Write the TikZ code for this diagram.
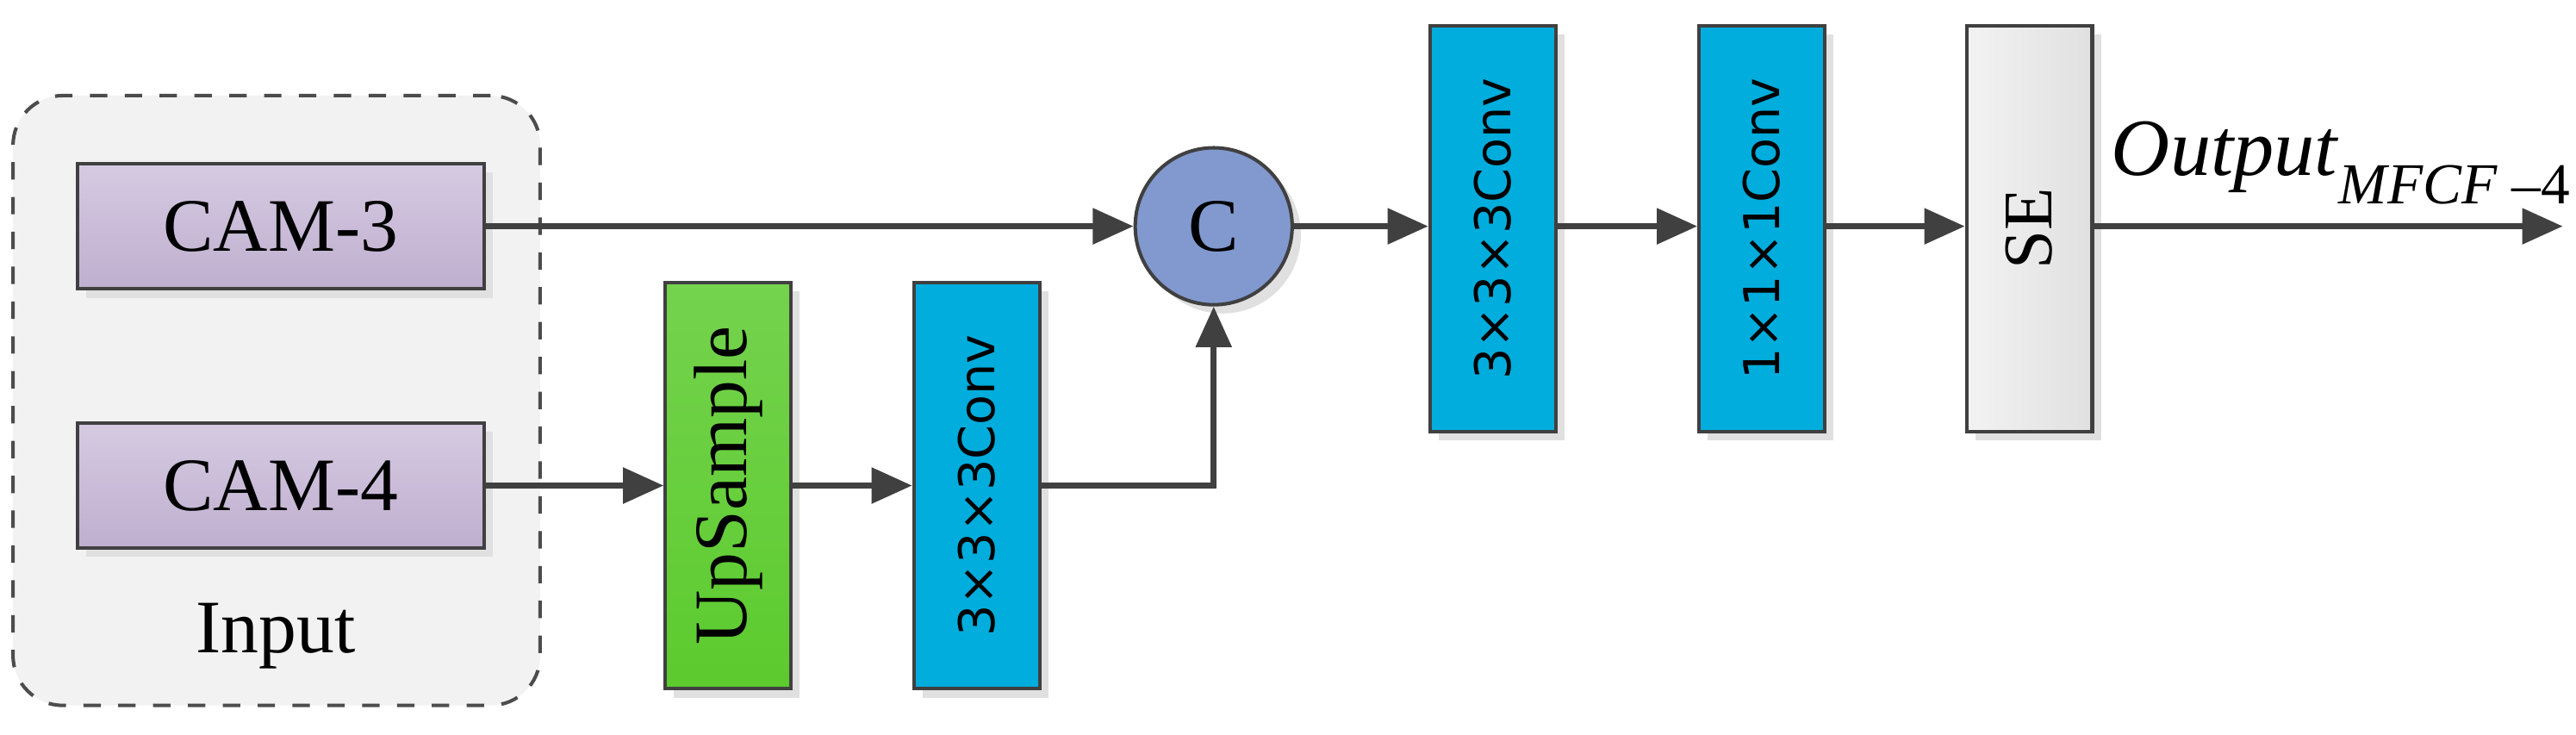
\documentclass[tikz,border=0pt]{standalone}
\usepackage{fontspec}
\setmainfont{Liberation Serif}
\newfontfamily\convfont{DejaVu Sans}
\usetikzlibrary{arrows.meta,shadows}
\definecolor{camtop}{HTML}{D6CAE2}
\definecolor{cambot}{HTML}{BFAFCF}
\definecolor{upg}{HTML}{5CCB2E}
\definecolor{convc}{HTML}{00ADDC}
\definecolor{circc}{HTML}{8199CF}
\definecolor{arr}{HTML}{404040}
\begin{document}
\begin{tikzpicture}[x=0.01cm,y=-0.01cm,
  sh/.style={drop shadow={shadow xshift=1.5pt,shadow yshift=-1.5pt,fill=black!12,opacity=1}},
  cam/.style={draw=black!75,line width=0.6pt,top color=camtop,bottom color=cambot,sh,minimum width=2.46cm,minimum height=0.76cm,font=\fontsize{13}{15}\selectfont},
  vbox/.style={draw=black!75,line width=0.6pt,sh,minimum width=0.76cm,minimum height=2.46cm},
  vtxt/.style={rotate=90},
  conn/.style={arr,line width=1.1pt,-{Triangle[length=7pt,width=6pt]}}]
\useasboundingbox (0,0) rectangle (1560,445);
\node[draw=black!70,dashed,fill=black!5,rounded corners=0.3cm,line width=0.6pt,minimum width=3.19cm,minimum height=3.69cm] (inbox) at (167.5,242.5) {};
\node[font=\fontsize{13}{15}\selectfont] (inlab) at (167,385) {Input};
\node[cam] (cam3) at (170,137) {CAM-3};
\node[cam] (cam4) at (170,294) {CAM-4};
\node[vbox,top color=upg!85!white,bottom color=upg] (up) at (441,294) {};
\node[vtxt,font=\fontsize{13}{15}\selectfont] (upt) at (up) {UpSample};
\node[vbox,fill=convc] (c1) at (591.5,294) {};
\node[vtxt,font=\convfont\fontsize{8.5}{10}\selectfont] (c1t) at (c1) {3×3×3Conv};
\node[circle,draw=black!75,line width=0.6pt,fill=circc,minimum size=0.95cm,sh,font=\fontsize{13}{15}\selectfont] (cc) at (735,137) {C};
\node[vbox,fill=convc] (c2) at (904,138.5) {};
\node[vtxt,font=\convfont\fontsize{8.5}{10}\selectfont] (c2t) at (c2) {3×3×3Conv};
\node[vbox,fill=convc] (c3) at (1067,138.5) {};
\node[vtxt,font=\convfont\fontsize{8.5}{10}\selectfont] (c3t) at (c3) {1×1×1Conv};
\node[vbox,left color=black!5,right color=black!12] (se) at (1229,138.5) {};
\node[vtxt,font=\fontsize{12}{14}\selectfont] (set) at (se) {SE};
\coordinate (out) at (1552,137);
\node[anchor=base west,inner sep=0pt,font=\fontsize{14}{16}\selectfont] (outlab) at (1278,106) {\textit{Output}\raisebox{-5pt}{\fontsize{10}{12}\selectfont\textit{MFCF} –4}};
\draw[conn] (cam3.east) -- (cc.west);
\draw[conn] (cam4.east) -- (up.west);
\draw[conn] (up.east) -- (c1.west);
\draw[conn] (c1.east) -| (cc.south);
\draw[conn] (cc.east) -- (c2.west|-cc.east);
\draw[conn] (c2.east|-cc.east) -- (c3.west|-cc.east);
\draw[conn] (c3.east|-cc.east) -- (se.west|-cc.east);
\draw[conn] (se.east|-cc.east) -- (out);
\end{tikzpicture}
\end{document}
